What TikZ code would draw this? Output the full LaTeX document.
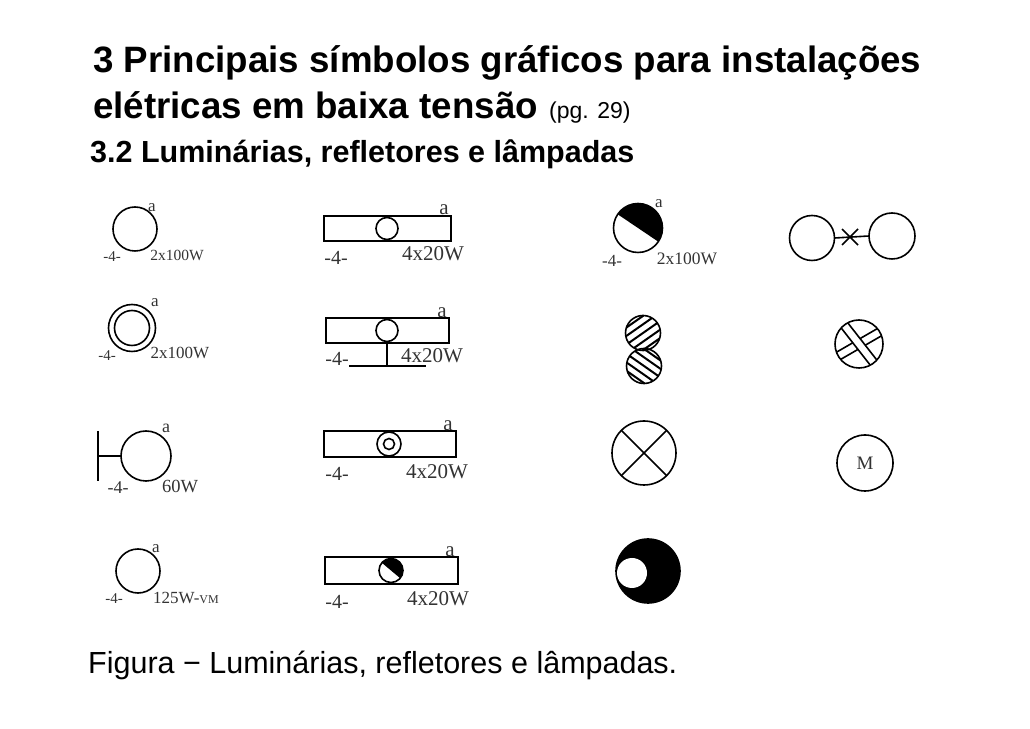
\documentclass[tikz,border=0pt]{standalone}
\usepackage{fontspec}
\setmainfont{Liberation Sans}
\newfontfamily\scanfont{Liberation Serif}
\usetikzlibrary{calc}
\tikzset{
  lamp/.style={circle, draw, inner sep=0pt, outer sep=0pt, line width=1.6pt, minimum size=#1},
  lum/.style={rectangle, draw, inner sep=0pt, outer sep=0pt, line width=1.6pt},
  lbl/.style={inner sep=0pt, text=black!80, font=\scanfont\fontsize{#1}{#1}\selectfont},
  wire/.style={line width=1.6pt}
}

\begin{document}
\begin{tikzpicture}[x=1pt, y=1pt]
\useasboundingbox (0,0) rectangle (1030,728);

\node[anchor=base west, inner sep=0pt, font=\bfseries\fontsize{36.7}{36.7}\selectfont] (title1) at (93,655) {3 Principais símbolos gráficos para instalações};
\node[anchor=base west, inner sep=0pt, font=\bfseries\fontsize{36.7}{36.7}\selectfont] (title2) at (93,609) {elétricas em baixa tensão};
\node[anchor=base west, inner sep=0pt, font=\fontsize{23}{23}\selectfont] (pg) at (549,609) {(pg. 29)};
\node[anchor=base west, inner sep=0pt, font=\bfseries\fontsize{30.5}{30.5}\selectfont] (sub) at (90,565) {3.2 Luminárias, refletores e lâmpadas};
\node[anchor=base west, inner sep=0pt, font=\fontsize{30.5}{30.5}\selectfont] (fig) at (88,55) {Figura − Luminárias, refletores e lâmpadas.};

% first column
\node[lamp=44pt] (p1) at (135,499) {};
\node[lbl=17] (p1a) at (152,520) {a};
\node[lbl=15] (p1n) at (112,471) {-4-};
\node[lbl=15.5] (p1w) at (177,473) {2x100W};

\node[lamp=47pt] (p2) at (132,400) {};
\node[lamp=35pt] (p2i) at (132,400) {};
\node[lbl=17] (p2a) at (155,425) {a};
\node[lbl=15] (p2n) at (107,372) {-4-};
\node[lbl=17] (p2w) at (180,375) {2x100W};

\node[lamp=50pt] (p3) at (146,272) {};
\coordinate (p3t) at (98,297);
\coordinate (p3m) at (98,272);
\coordinate (p3b) at (98,247);
\draw[wire] (p3t)--(p3b);
\draw[wire] (p3m)--(p3.west);
\node[lbl=18] (p3a) at (166,300) {a};
\node[lbl=18] (p3n) at (118,240) {-4-};
\node[lbl=18.5] (p3w) at (180,242) {60W};

\node[lamp=44pt] (p4) at (138,157) {};
\node[lbl=17] (p4a) at (156,179) {a};
\node[lbl=15] (p4n) at (114,129) {-4-};
\node[lbl=17] (p4w) at (186,130) {125W-{\fontsize{12}{12}\selectfont VM}};

% second column
\node[lum, minimum width=127pt, minimum height=25pt] (r1) at (387.5,499.5) {};
\node[lamp=22pt] (r1c) at (387,499.5) {};
\node[lbl=21] (r1a) at (444,518) {a};
\node[lbl=20] (r1n) at (336,470) {-4-};
\node[lbl=21] (r1w) at (433,474) {4x20W};

\node[lum, minimum width=123pt, minimum height=25pt] (r2) at (387.5,397.5) {};
\node[lamp=22pt] (r2c) at (387,397.5) {};
\coordinate (r2s) at (387,362);
\coordinate (r2l) at (349,362);
\coordinate (r2e) at (426,362);
\draw[wire] (r2c.south)--(r2s);
\draw[wire] (r2l)--(r2e);
\node[lbl=21] (r2a) at (442,415) {a};
\node[lbl=20] (r2n) at (337,369) {-4-};
\node[lbl=21] (r2w) at (432,372) {4x20W};

\node[lum, minimum width=132pt, minimum height=26pt] (r3) at (390,284) {};
\node[lamp=24pt] (r3c) at (389,284) {};
\node[lamp=11pt] (r3i) at (389,284) {};
\node[lbl=21] (r3a) at (448,302) {a};
\node[lbl=20] (r3n) at (337,254) {-4-};
\node[lbl=21] (r3w) at (437,256) {4x20W};

\node[lum, minimum width=133pt, minimum height=27pt] (r4) at (391.5,157.5) {};
\node[lamp=24pt] (r4c) at (391,157.5) {};
\fill (r4c.140) arc[start angle=140, end angle=-40, radius=12pt]--cycle;
\node[lbl=21] (r4a) at (450,176) {a};
\node[lbl=20] (r4n) at (337,126) {-4-};
\node[lbl=21] (r4w) at (438,129) {4x20W};

% third column
\node[lamp=49pt] (h1) at (638,500) {};
\fill (h1.146) arc[start angle=146, end angle=-34, radius=24.5pt]--cycle;
\node[lbl=17] (h1a) at (659,524) {a};
\node[lbl=17] (h1n) at (612,467) {-4-};
\node[lbl=17.5] (h1w) at (687,469) {2x100W};

\begin{scope}[every path/.style={line width=2pt}]
\node[lamp=35pt] (u) at (643,395) {};
\draw (u.35)--(u.215);
\draw (u.59)--(u.191);
\draw (u.88)--(u.162);
\draw (u.11)--(u.239);
\draw (u.-18)--(u.-92);
\node[lamp=35pt] (v) at (644,362) {};
\draw (v.-35)--(v.145);
\draw (v.121)--(v.-11);
\draw (v.92)--(v.18);
\draw (v.169)--(v.301);
\draw (v.198)--(v.272);
\end{scope}

\node[lamp=64pt] (x) at (644,275) {};
\draw[wire] (x.45)--(x.225);
\draw[wire] (x.135)--(x.315);

\node[lamp=64pt, fill=black] (b) at (648,157) {};
\node[circle, fill=white, inner sep=0pt, minimum size=30pt] (bw) at (632,155) {};

% fourth column
\node[lamp=45pt] (d1) at (812,490) {};
\node[lamp=46pt] (d2) at (892,492) {};
\draw[wire] (d1.east)--(d2.west);
\coordinate (k1) at (842,499);
\coordinate (k2) at (858,483);
\coordinate (k3) at (858,499);
\coordinate (k4) at (842,483);
\draw[wire] (k1)--(k2);
\draw[wire] (k3)--(k4);

\node[lamp=48pt] (c) at (859,384) {};
\draw[wire] (c.118)--(c.-42);
\draw[wire] (c.138)--(c.298);
\draw[wire] (c.200)--($(c.200)!0.395!(c.40)$);
\draw[wire] ($(c.200)!0.58!(c.40)$)--(c.40);
\draw[wire] (c.220)--($(c.220)!0.42!(c.20)$);
\draw[wire] ($(c.220)!0.605!(c.20)$)--(c.20);

\node[lamp=56pt, font=\scanfont\fontsize{19}{19}\selectfont, text=black!80] (m) at (865,265) {M};
\end{tikzpicture}
\end{document}
